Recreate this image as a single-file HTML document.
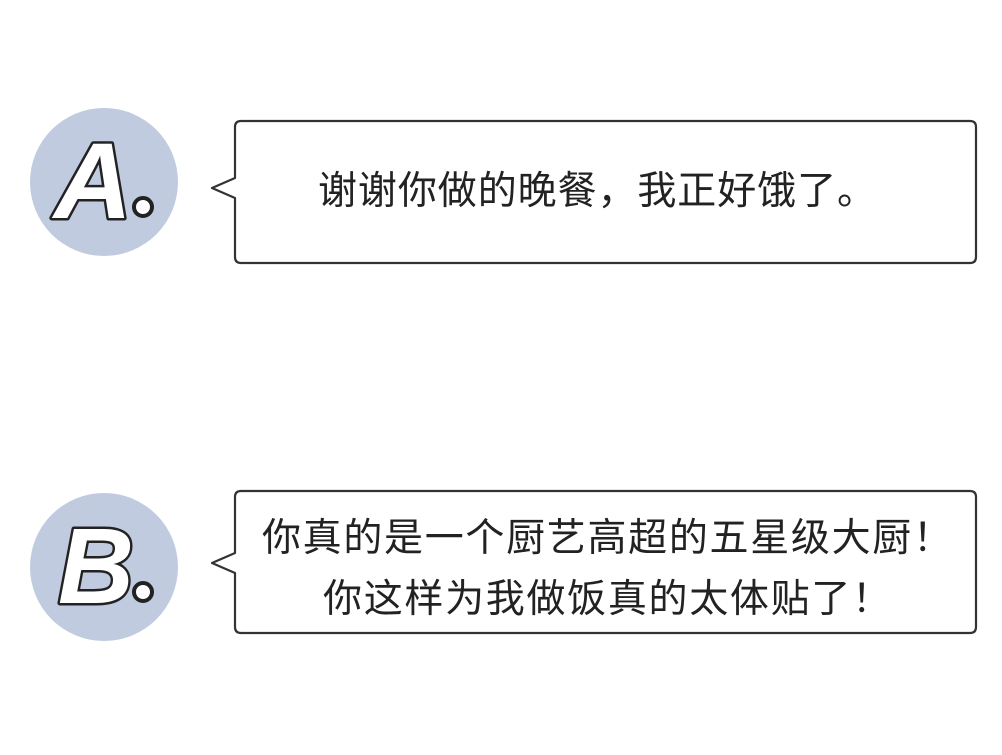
<!DOCTYPE html>
<html><head><meta charset="utf-8"><style>
body{margin:0;width:1002px;height:750px;background:#fff;overflow:hidden}
</style></head><body>
<svg width="1002" height="750" xmlns="http://www.w3.org/2000/svg">
<circle cx="104" cy="182" r="74" fill="#c1cbe0"/>
<circle cx="104" cy="567" r="74" fill="#c1cbe0"/>
<g font-family="Liberation Sans, sans-serif" font-weight="bold" font-style="italic" fill="#fff" stroke="#222" stroke-width="5" stroke-linejoin="round" paint-order="stroke">
<text x="54" y="218" font-size="108" textLength="78" lengthAdjust="spacingAndGlyphs">A</text>
<text x="58" y="603" font-size="108" textLength="76" lengthAdjust="spacingAndGlyphs">B</text>
</g>
<circle cx="143" cy="207" r="9" fill="#fff" stroke="#222" stroke-width="4"/>
<circle cx="143" cy="592" r="9" fill="#fff" stroke="#222" stroke-width="4"/>
<g fill="#fff" stroke="#333" stroke-width="2.2" stroke-linejoin="round">
<path d="M241 121 H970 Q976 121 976 127 V257 Q976 263 970 263 H241 Q235 263 235 257 V198 L212 188 L235 178 V127 Q235 121 241 121 Z"/>
<path d="M241 491 H970 Q976 491 976 497 V627 Q976 633 970 633 H241 Q235 633 235 627 V573 L212 563 L235 553 V497 Q235 491 241 491 Z"/>
</g>
<g font-family="Liberation Sans, Noto Sans CJK SC, sans-serif" font-size="39" fill="#222">
<text x="318" y="204" textLength="558" lengthAdjust="spacing">谢谢你做的晚餐，我正好饿了。</text>
<text x="262" y="551" textLength="690" lengthAdjust="spacing">你真的是一个厨艺高超的五星级大厨！</text>
<text x="323" y="612" textLength="568" lengthAdjust="spacing">你这样为我做饭真的太体贴了！</text>
</g>
</svg>
</body></html>
